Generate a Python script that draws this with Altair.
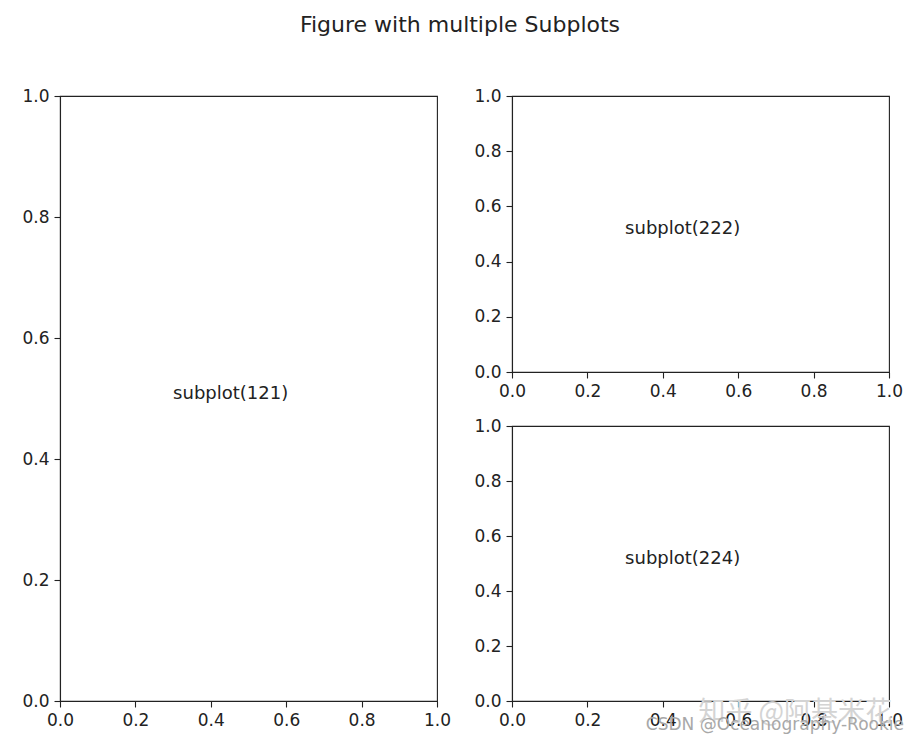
import altair as alt
import pandas as pd

# ---- data ----
panel_labels = ["subplot(121)", "subplot(222)", "subplot(224)"]
label_x = [0.3, 0.3, 0.3]
label_y = [0.5, 0.5, 0.5]
tick_values = [0.0, 0.2, 0.4, 0.6, 0.8, 1.0]
fig_title = "Figure with multiple Subplots"
watermark_zh = "知乎 @阿基米花"
watermark_en = "CSDN @Oceanography-Rookie"

FONT = "DejaVu Sans"
INK = "#222222"


def panel(i, width, height, extra=None):
    df = pd.DataFrame({"x": [label_x[i]], "y": [label_y[i]], "t": [panel_labels[i]]})
    base = alt.Chart(df)
    txt = base.mark_text(align="left", baseline="alphabetic", font=FONT,
                         fontSize=18, color=INK).encode(
        x=alt.X("x:Q", scale=alt.Scale(domain=[0, 1], nice=False, zero=False),
                axis=alt.Axis(values=tick_values, format=".1f", title=None)),
        y=alt.Y("y:Q", scale=alt.Scale(domain=[0, 1], nice=False, zero=False),
                axis=alt.Axis(values=tick_values, format=".1f", title=None)),
        text="t:N",
    )
    layers = [txt]
    if extra:
        layers += extra
    return alt.layer(*layers).properties(width=width, height=height)


anchor_df = pd.DataFrame({"a": [0]})
anchor = alt.Chart(anchor_df).mark_rule(opacity=0, strokeWidth=0.1).encode(
    x=alt.value(-51), x2=alt.value(-50), y=alt.value(-87), y2=alt.value(-86))
title_df = pd.DataFrame({"t": [fig_title]})
title = alt.Chart(title_df).mark_text(align="center", baseline="alphabetic", font=FONT,
                                      fontSize=22, color=INK).encode(
    x=alt.value(400), y=alt.value(-64), text="t:N")

wm_df = pd.DataFrame({"zh": [watermark_zh], "en": [watermark_en]})
wm_zh = alt.Chart(wm_df).mark_text(align="right", baseline="alphabetic", font="Noto Sans CJK SC",
                                   fontSize=27, color="#d4d4d4").encode(
    x=alt.value(380), y=alt.value(295), text="zh:N")
wm_en = alt.Chart(wm_df).mark_text(align="right", baseline="alphabetic", font=FONT,
                                   fontSize=17, color="#a8a8a8").encode(
    x=alt.value(392), y=alt.value(304), text="en:N")

left = panel(0, 377, 605, [anchor, title])
top_right = panel(1, 377, 276)
bottom_right = panel(2, 377, 275, [wm_zh, wm_en])

right = alt.vconcat(top_right, bottom_right, spacing=54, bounds="flush")
chart = alt.hconcat(left, right, spacing=75, bounds="flush").properties(
    padding=0, background="white"
).configure_view(
    stroke=INK, strokeWidth=1.1, fill="white"
).configure_axis(
    grid=False, domain=True, domainColor=INK, domainWidth=1.1,
    ticks=True, tickColor=INK, tickSize=6, tickWidth=1.1,
    labelFont=FONT, labelFontSize=17, labelColor=INK,
    labelPadding=5, labelFlush=False, labelOverlap=False,
)

chart.save("out.html", embed_options={"renderer": "svg", "actions": False})
